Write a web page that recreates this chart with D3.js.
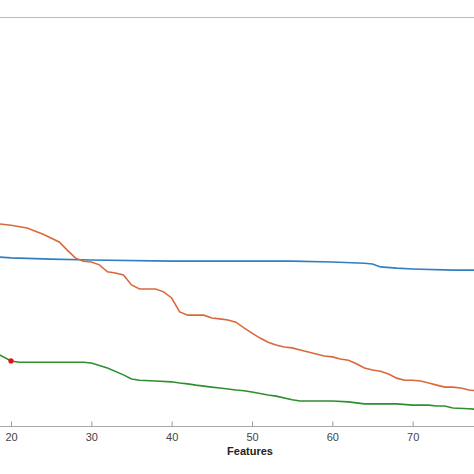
<!DOCTYPE html>
<html><head><meta charset="utf-8">
<script src="https://cdn.jsdelivr.net/npm/d3@7"></script>
<style>body{margin:0;background:#fff}</style>
</head><body><svg width="474" height="474"></svg>
<script>
const width = 474, height = 474;
const xTicks = [20, 30, 40, 50, 60, 70];
// blue
const blueX = [18.6, 20, 25, 30, 40, 50, 55, 60, 64, 65, 66, 68, 70, 75, 79.5];
const blueY = [0.413, 0.411, 0.408, 0.406, 0.403, 0.403, 0.403, 0.401, 0.398, 0.396, 0.389, 0.386, 0.384, 0.381, 0.381];
// orange
const orangeX = [18.6, 20, 22, 24, 26, 27, 28, 29, 30, 31, 32, 33, 34, 35, 36, 38, 39, 40, 41, 42, 44, 45, 46, 47, 48, 49, 50, 51, 52, 53, 54, 55, 56, 57, 58, 59, 60, 61, 62, 63, 64, 65, 66, 67, 68, 69, 70, 71, 72, 73, 74, 75, 76, 77, 78, 79.5];
const orangePx = [224, 225, 228, 234, 242, 250, 258, 261, 262, 265, 272, 273, 275, 285, 289, 289, 292, 298, 312, 315, 315, 318, 319, 320, 322, 328, 333, 338, 342, 345, 347, 348, 350, 352, 354, 356, 357, 359, 360, 364, 368, 370, 371, 374, 378, 380, 380, 381, 383, 385, 387, 387, 388, 390, 391, 392];
const orangeY = orangePx.map(p => +((426 - p) / 409).toFixed(3));
// green
const greenX = [18.6, 20, 21, 29, 30, 32, 34, 35, 36, 38, 40, 41, 42, 43, 45, 46, 48, 49, 50, 52, 53, 55, 56, 60, 62, 64, 68, 70, 72, 73, 74, 75, 77, 79.5];
const greenPx = [355, 361, 362, 362, 363, 368, 375, 379, 380, 381, 382, 383, 384, 385, 387, 388, 390, 391, 392, 395, 396, 400, 401, 401, 402, 404, 404, 405, 405, 406, 406, 408, 409, 410];
const greenY = greenPx.map(p => +((426 - p) / 409).toFixed(3));
const markX = 20, markY = +((426 - 361) / 409).toFixed(3);

const svg = d3.select("svg");
const x = d3.scaleLinear().domain([18.63, 80]).range([0, 493]);
const y = d3.scaleLinear().domain([0, 1]).range([426, 17]);

svg.append("line").attr("x1", 0).attr("x2", width).attr("y1", 17.5).attr("y2", 17.5).attr("stroke", "#bbb");
svg.append("line").attr("x1", 0).attr("x2", width).attr("y1", 426.5).attr("y2", 426.5).attr("stroke", "#aaa");

const ax = svg.append("g").attr("transform", "translate(0,426.5)")
    .call(d3.axisBottom(x).tickValues(xTicks).tickSize(-5).tickPadding(7));
ax.select(".domain").remove();
ax.selectAll(".tick line").attr("stroke", "#999");
ax.selectAll("text").attr("fill", "#444").style("font", "11px 'Liberation Sans', Arial, sans-serif");

svg.append("text").attr("x", 250).attr("y", 455).attr("text-anchor", "middle")
    .attr("fill", "#222").style("font", "bold 11px 'Liberation Sans', Arial, sans-serif").text("Features");

const line = d3.line().x(d => x(d[0])).y(d => y(d[1]));
const series = [
    [blueX, blueY, "#2f7fc1"],
    [orangeX, orangeY, "#d9693a"],
    [greenX, greenY, "#2f8f2f"],
];
series.forEach(([xs, ys, c]) => {
    svg.append("path").datum(d3.zip(xs, ys)).attr("d", line)
        .attr("fill", "none").attr("stroke", c).attr("stroke-width", 1.6);
});
svg.append("circle").attr("cx", x(markX)).attr("cy", y(markY)).attr("r", 2.6).attr("fill", "#e8101a");
</script></body></html>
